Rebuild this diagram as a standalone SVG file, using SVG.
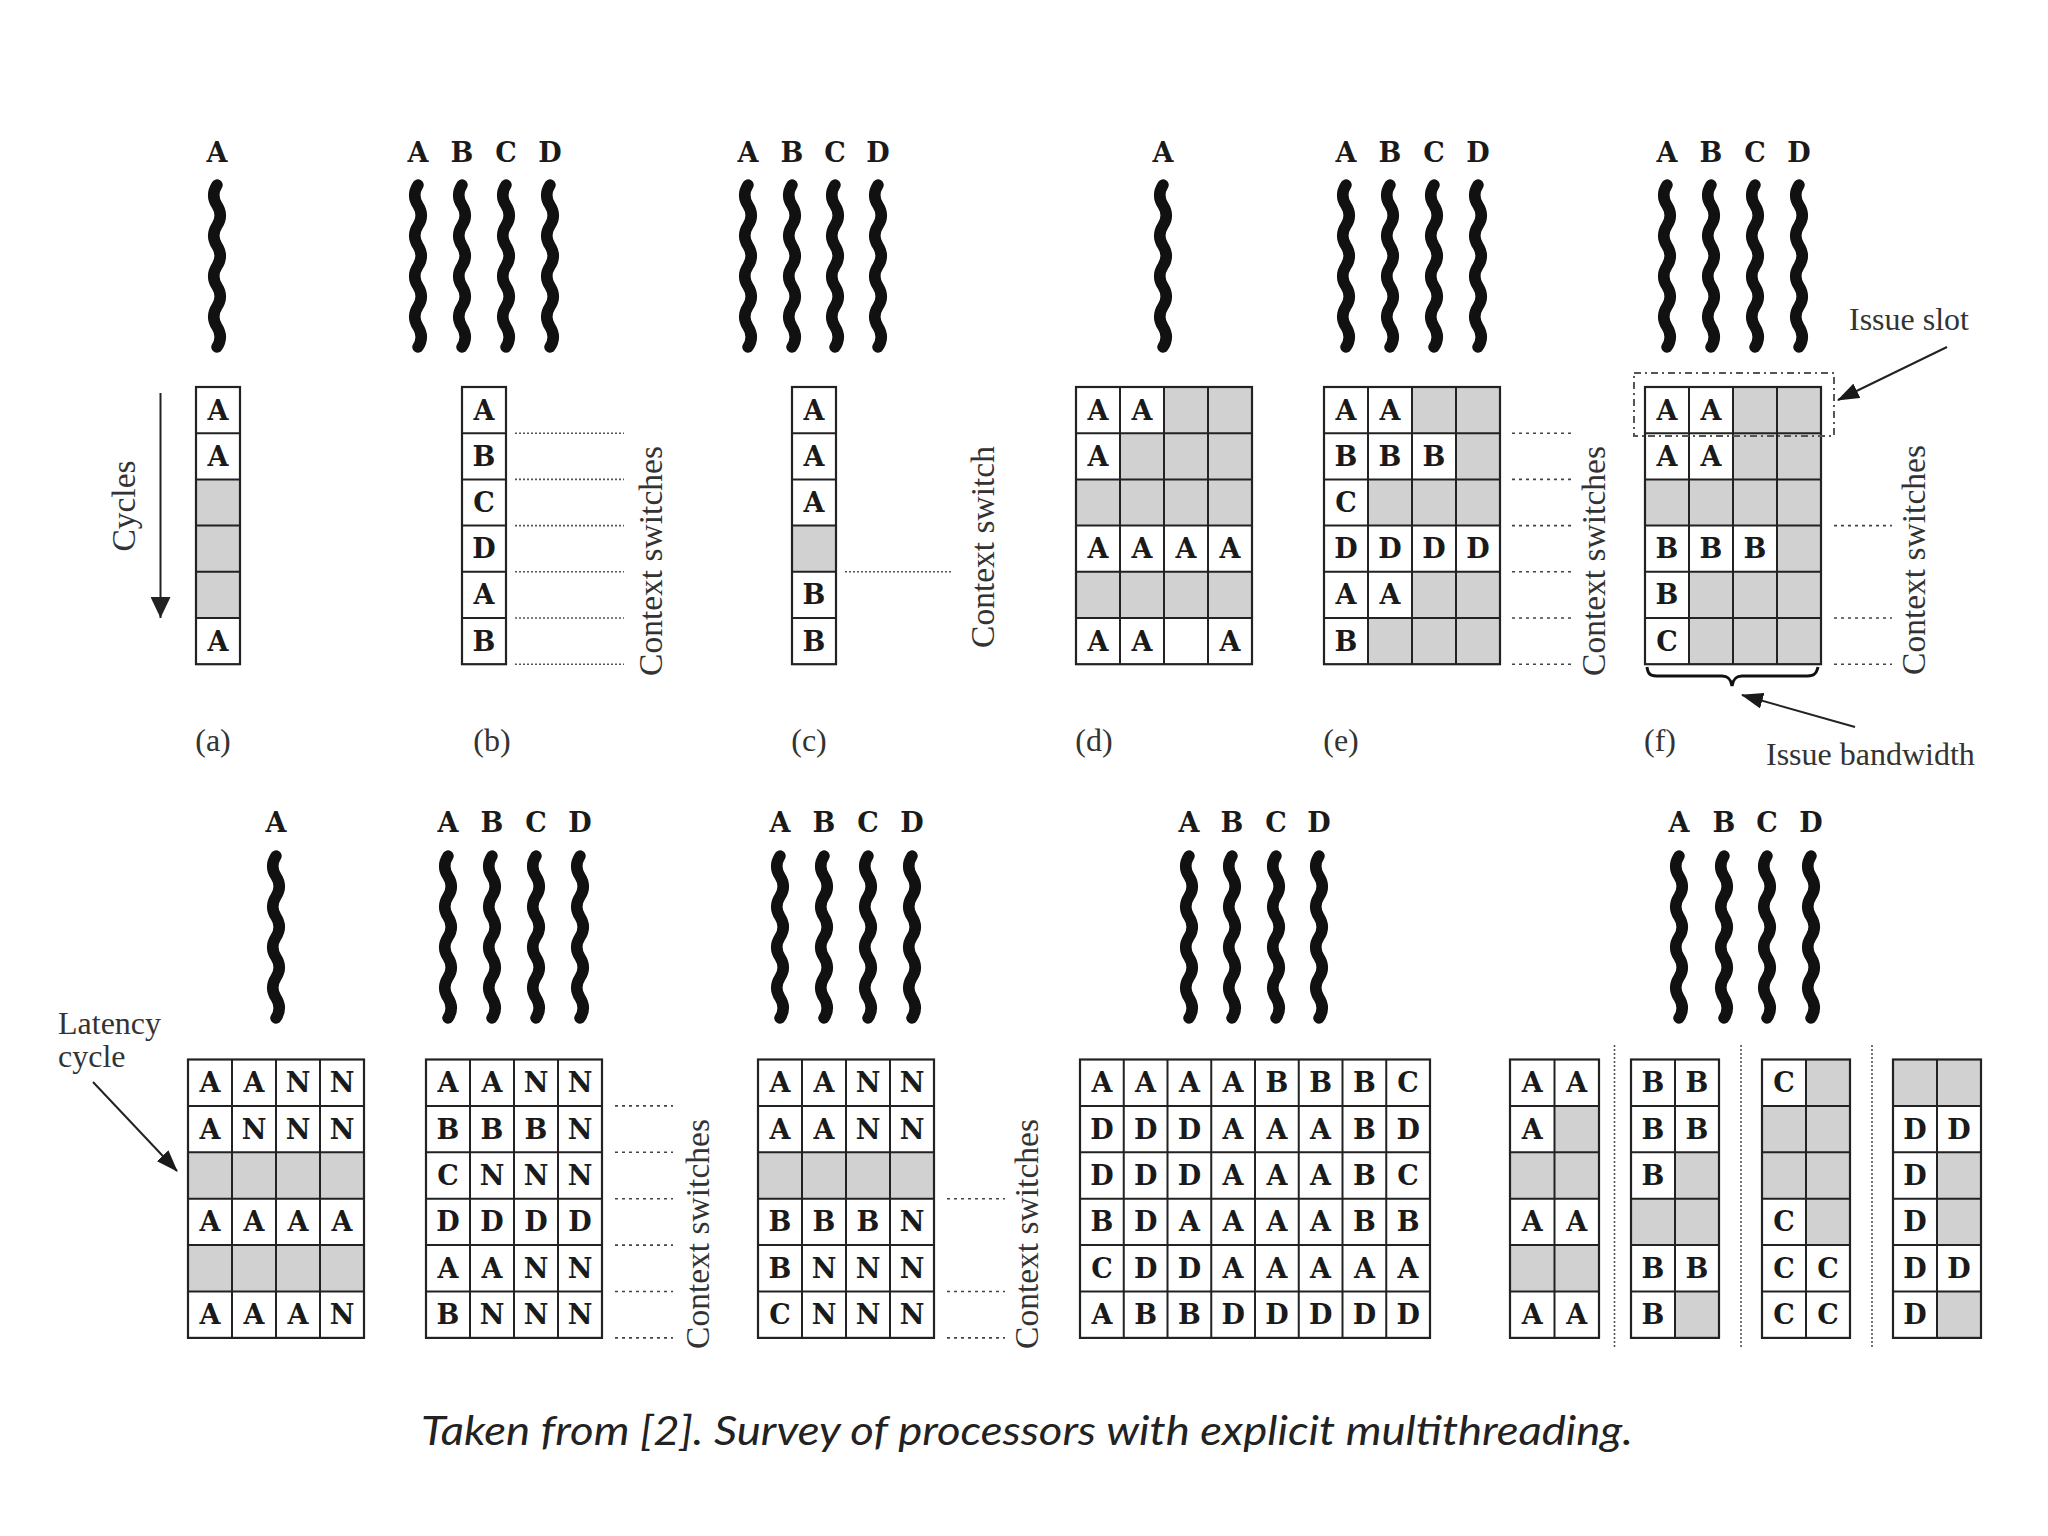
<svg xmlns="http://www.w3.org/2000/svg" width="2048" height="1536" viewBox="0 0 2048 1536">
<style>
.w{fill:#fff}
.g{fill:#d1d1d1}
.ln{stroke:#222;stroke-width:2;fill:none}
.bd{fill:none;stroke:#222;stroke-width:2.2}
.t{font-family:"DejaVu Serif","Liberation Serif",serif;font-weight:bold;font-size:27px;text-anchor:middle;fill:#1a1a1a}
.sr{font-family:"Liberation Serif",serif;font-size:32px;fill:#333}
.cs{font-family:"Liberation Serif",serif;font-size:33.5px;fill:#333;text-anchor:middle}
.lb{font-family:"Liberation Serif",serif;font-size:32px;fill:#333;text-anchor:middle}
.dt{stroke:#444;stroke-width:1.6;stroke-dasharray:3 4;fill:none}
.dt2{stroke:#555;stroke-width:1.6;stroke-dasharray:2 2;fill:none}
.wave{fill:none;stroke:#111;stroke-width:11.5;stroke-linecap:round}
.arr{stroke:#222;stroke-width:2;fill:none}
</style>
<defs>
<path id="wv" d="M0,0 q-6.5,10.125 0,20.25 t0,20.25 t0,20.25 t0,20.25 t0,20.25 t0,20.25 t0,20.25 t0,20.25"/>
<marker id="ah" viewBox="0 0 22 16" refX="21" refY="8" markerWidth="22" markerHeight="16" markerUnits="userSpaceOnUse" orient="auto"><path d="M0,0 L22,8 L0,16 z" fill="#1a1a1a"/></marker>
<marker id="ah2" viewBox="0 0 21 20" refX="21" refY="10" markerWidth="21" markerHeight="20" markerUnits="userSpaceOnUse" orient="auto"><path d="M0,0 L21,10 L0,20 z" fill="#222"/></marker>
</defs>
<rect width="2048" height="1536" fill="#fff"/>

<!-- (a) -->
<g id="panel-a">
<g class="t"><text x="217" y="162">A</text></g>
<use href="#wv" x="217" y="185" class="wave"/>
<rect class="w" x="196" y="387" width="44" height="277.2"/>
<rect class="g" x="196" y="479.4" width="44" height="138.6"/>
<path class="ln" d="M196,433.2H240M196,479.4H240M196,525.6H240M196,571.8H240M196,618H240"/>
<rect class="bd" x="196" y="387" width="44" height="277.2"/>
<g class="t"><text x="218" y="419.6">A</text><text x="218" y="465.8">A</text><text x="218" y="650.6">A</text></g>
<text class="cs" transform="translate(135,506) rotate(-90)">Cycles</text>
<text class="lb" x="213" y="751">(a)</text>
</g>

<!-- (b) -->
<g id="panel-b">
<g class="t"><text x="418" y="162">A</text><text x="462" y="162">B</text><text x="506" y="162">C</text><text x="550" y="162">D</text></g>
<use href="#wv" x="418" y="185" class="wave"/><use href="#wv" x="462" y="185" class="wave"/><use href="#wv" x="506" y="185" class="wave"/><use href="#wv" x="550" y="185" class="wave"/>
<rect class="w" x="462" y="387" width="44" height="277.2"/>
<path class="ln" d="M462,433.2H506M462,479.4H506M462,525.6H506M462,571.8H506M462,618H506"/>
<rect class="bd" x="462" y="387" width="44" height="277.2"/>
<g class="t"><text x="484" y="419.6">A</text><text x="484" y="465.8">B</text><text x="484" y="512">C</text><text x="484" y="558.2">D</text><text x="484" y="604.4">A</text><text x="484" y="650.6">B</text></g>
<path class="dt2" d="M515,433.2H624M515,479.4H624M515,525.6H624M515,571.8H624M515,618H624M515,664.2H624"/>
<text class="cs" transform="translate(662,561) rotate(-90)">Context switches</text>
<text class="lb" x="492" y="751">(b)</text>
</g>

<!-- (c) -->
<g id="panel-c">
<g class="t"><text x="748" y="162">A</text><text x="792" y="162">B</text><text x="835" y="162">C</text><text x="878" y="162">D</text></g>
<use href="#wv" x="748" y="185" class="wave"/><use href="#wv" x="792" y="185" class="wave"/><use href="#wv" x="835" y="185" class="wave"/><use href="#wv" x="878" y="185" class="wave"/>
<rect class="w" x="792" y="387" width="44" height="277.2"/>
<rect class="g" x="792" y="525.6" width="44" height="46.2"/>
<path class="ln" d="M792,433.2H836M792,479.4H836M792,525.6H836M792,571.8H836M792,618H836"/>
<rect class="bd" x="792" y="387" width="44" height="277.2"/>
<g class="t"><text x="814" y="419.6">A</text><text x="814" y="465.8">A</text><text x="814" y="512">A</text><text x="814" y="604.4">B</text><text x="814" y="650.6">B</text></g>
<path class="dt2" d="M845,571.8H953"/>
<text class="cs" transform="translate(994,547) rotate(-90)">Context switch</text>
<text class="lb" x="809" y="751">(c)</text>
</g>

<!-- (d) -->
<g id="panel-d">
<g class="t"><text x="1163" y="162">A</text></g>
<use href="#wv" x="1163" y="185" class="wave"/>
<rect class="w" x="1076" y="387" width="176" height="277.2"/>
<rect class="g" x="1164" y="387" width="88" height="46.2"/>
<rect class="g" x="1120" y="433.2" width="132" height="46.2"/>
<rect class="g" x="1076" y="479.4" width="176" height="46.2"/>
<rect class="g" x="1076" y="571.8" width="176" height="46.2"/>
<path class="ln" d="M1076,433.2H1252M1076,479.4H1252M1076,525.6H1252M1076,571.8H1252M1076,618H1252M1120,387V664.2M1164,387V664.2M1208,387V664.2"/>
<rect class="bd" x="1076" y="387" width="176" height="277.2"/>
<g class="t"><text x="1098" y="419.6">A</text><text x="1142" y="419.6">A</text><text x="1098" y="465.8">A</text><text x="1098" y="558.2">A</text><text x="1142" y="558.2">A</text><text x="1186" y="558.2">A</text><text x="1230" y="558.2">A</text><text x="1098" y="650.6">A</text><text x="1142" y="650.6">A</text><text x="1230" y="650.6">A</text></g>
<text class="lb" x="1094" y="751">(d)</text>
</g>

<!-- (e) -->
<g id="panel-e">
<g class="t"><text x="1346" y="162">A</text><text x="1390" y="162">B</text><text x="1434" y="162">C</text><text x="1478" y="162">D</text></g>
<use href="#wv" x="1346" y="185" class="wave"/><use href="#wv" x="1390" y="185" class="wave"/><use href="#wv" x="1434" y="185" class="wave"/><use href="#wv" x="1478" y="185" class="wave"/>
<rect class="w" x="1324" y="387" width="176" height="277.2"/>
<rect class="g" x="1412" y="387" width="88" height="46.2"/>
<rect class="g" x="1456" y="433.2" width="44" height="46.2"/>
<rect class="g" x="1368" y="479.4" width="132" height="46.2"/>
<rect class="g" x="1412" y="571.8" width="88" height="46.2"/>
<rect class="g" x="1368" y="618" width="132" height="46.2"/>
<path class="ln" d="M1324,433.2H1500M1324,479.4H1500M1324,525.6H1500M1324,571.8H1500M1324,618H1500M1368,387V664.2M1412,387V664.2M1456,387V664.2"/>
<rect class="bd" x="1324" y="387" width="176" height="277.2"/>
<g class="t"><text x="1346" y="419.6">A</text><text x="1390" y="419.6">A</text><text x="1346" y="465.8">B</text><text x="1390" y="465.8">B</text><text x="1434" y="465.8">B</text><text x="1346" y="512">C</text><text x="1346" y="558.2">D</text><text x="1390" y="558.2">D</text><text x="1434" y="558.2">D</text><text x="1478" y="558.2">D</text><text x="1346" y="604.4">A</text><text x="1390" y="604.4">A</text><text x="1346" y="650.6">B</text></g>
<path class="dt" d="M1512,433.2H1572M1512,479.4H1572M1512,525.6H1572M1512,571.8H1572M1512,618H1572M1512,664.2H1572"/>
<text class="cs" transform="translate(1605,561) rotate(-90)">Context switches</text>
<text class="lb" x="1341" y="751">(e)</text>
</g>

<!-- (f) -->
<g id="panel-f">
<g class="t"><text x="1667" y="162">A</text><text x="1711" y="162">B</text><text x="1755" y="162">C</text><text x="1799" y="162">D</text></g>
<use href="#wv" x="1667" y="185" class="wave"/><use href="#wv" x="1711" y="185" class="wave"/><use href="#wv" x="1755" y="185" class="wave"/><use href="#wv" x="1799" y="185" class="wave"/>
<rect class="w" x="1645" y="387" width="176" height="277.2"/>
<rect class="g" x="1733" y="387" width="88" height="46.2"/>
<rect class="g" x="1733" y="433.2" width="88" height="46.2"/>
<rect class="g" x="1645" y="479.4" width="176" height="46.2"/>
<rect class="g" x="1777" y="525.6" width="44" height="46.2"/>
<rect class="g" x="1689" y="571.8" width="132" height="46.2"/>
<rect class="g" x="1689" y="618" width="132" height="46.2"/>
<path class="ln" d="M1645,433.2H1821M1645,479.4H1821M1645,525.6H1821M1645,571.8H1821M1645,618H1821M1689,387V664.2M1733,387V664.2M1777,387V664.2"/>
<rect class="bd" x="1645" y="387" width="176" height="277.2"/>
<g class="t"><text x="1667" y="419.6">A</text><text x="1711" y="419.6">A</text><text x="1667" y="465.8">A</text><text x="1711" y="465.8">A</text><text x="1667" y="558.2">B</text><text x="1711" y="558.2">B</text><text x="1755" y="558.2">B</text><text x="1667" y="604.4">B</text><text x="1667" y="650.6">C</text></g>
<rect x="1634" y="373" width="200" height="63" fill="none" stroke="#555" stroke-width="2" stroke-dasharray="7 4 2 4"/>
<path d="M1647,667 C1648,676 1652,676 1660,676 L1722,676 C1729,676 1731,680 1732,686 C1733,680 1735,676 1742,676 L1804,676 C1812,676 1816,676 1818,667" fill="none" stroke="#111" stroke-width="3"/>
<path class="dt" d="M1834,525.6H1892M1834,618H1892M1834,664.2H1892"/>
<text class="cs" transform="translate(1925,560) rotate(-90)">Context switches</text>
<text class="sr" x="1849" y="330">Issue slot</text>
<text class="sr" x="1766" y="765">Issue bandwidth</text>
<text class="lb" x="1660" y="751">(f)</text>
</g>

<!-- bottom g -->
<g id="panel-g">
<g class="t"><text x="276" y="832">A</text></g>
<use href="#wv" x="276" y="856" class="wave"/>
<rect class="w" x="188" y="1059.5" width="176" height="278.4"/>
<rect class="g" x="188" y="1152.3" width="176" height="46.4"/>
<rect class="g" x="188" y="1245.1" width="176" height="46.4"/>
<path class="ln" d="M188,1105.9H364M188,1152.3H364M188,1198.7H364M188,1245.1H364M188,1291.5H364M232,1059.5V1337.9M276,1059.5V1337.9M320,1059.5V1337.9"/>
<rect class="bd" x="188" y="1059.5" width="176" height="278.4"/>
<g class="t"><text x="210" y="1092.2">A</text><text x="254" y="1092.2">A</text><text x="298" y="1092.2">N</text><text x="342" y="1092.2">N</text><text x="210" y="1138.6">A</text><text x="254" y="1138.6">N</text><text x="298" y="1138.6">N</text><text x="342" y="1138.6">N</text><text x="210" y="1231.4">A</text><text x="254" y="1231.4">A</text><text x="298" y="1231.4">A</text><text x="342" y="1231.4">A</text><text x="210" y="1324.2">A</text><text x="254" y="1324.2">A</text><text x="298" y="1324.2">A</text><text x="342" y="1324.2">N</text></g>
<text class="sr" x="58" y="1034">Latency</text>
<text class="sr" x="58" y="1067">cycle</text>
</g>

<!-- bottom h -->
<g id="panel-h">
<g class="t"><text x="448" y="832">A</text><text x="492" y="832">B</text><text x="536" y="832">C</text><text x="580" y="832">D</text></g>
<use href="#wv" x="448" y="856" class="wave"/><use href="#wv" x="492" y="856" class="wave"/><use href="#wv" x="536" y="856" class="wave"/><use href="#wv" x="580" y="856" class="wave"/>
<rect class="w" x="426" y="1059.5" width="176" height="278.4"/>
<path class="ln" d="M426,1105.9H602M426,1152.3H602M426,1198.7H602M426,1245.1H602M426,1291.5H602M470,1059.5V1337.9M514,1059.5V1337.9M558,1059.5V1337.9"/>
<rect class="bd" x="426" y="1059.5" width="176" height="278.4"/>
<g class="t"><text x="448" y="1092.2">A</text><text x="492" y="1092.2">A</text><text x="536" y="1092.2">N</text><text x="580" y="1092.2">N</text><text x="448" y="1138.6">B</text><text x="492" y="1138.6">B</text><text x="536" y="1138.6">B</text><text x="580" y="1138.6">N</text><text x="448" y="1185">C</text><text x="492" y="1185">N</text><text x="536" y="1185">N</text><text x="580" y="1185">N</text><text x="448" y="1231.4">D</text><text x="492" y="1231.4">D</text><text x="536" y="1231.4">D</text><text x="580" y="1231.4">D</text><text x="448" y="1277.8">A</text><text x="492" y="1277.8">A</text><text x="536" y="1277.8">N</text><text x="580" y="1277.8">N</text><text x="448" y="1324.2">B</text><text x="492" y="1324.2">N</text><text x="536" y="1324.2">N</text><text x="580" y="1324.2">N</text></g>
<path class="dt" d="M615,1105.9H673M615,1152.3H673M615,1198.7H673M615,1245.1H673M615,1291.5H673M615,1337.9H673"/>
<text class="cs" transform="translate(709,1234) rotate(-90)">Context switches</text>
</g>

<!-- bottom i -->
<g id="panel-i">
<g class="t"><text x="780" y="832">A</text><text x="824" y="832">B</text><text x="868" y="832">C</text><text x="912" y="832">D</text></g>
<use href="#wv" x="780" y="856" class="wave"/><use href="#wv" x="824" y="856" class="wave"/><use href="#wv" x="868" y="856" class="wave"/><use href="#wv" x="912" y="856" class="wave"/>
<rect class="w" x="758" y="1059.5" width="176" height="278.4"/>
<rect class="g" x="758" y="1152.3" width="176" height="46.4"/>
<path class="ln" d="M758,1105.9H934M758,1152.3H934M758,1198.7H934M758,1245.1H934M758,1291.5H934M802,1059.5V1337.9M846,1059.5V1337.9M890,1059.5V1337.9"/>
<rect class="bd" x="758" y="1059.5" width="176" height="278.4"/>
<g class="t"><text x="780" y="1092.2">A</text><text x="824" y="1092.2">A</text><text x="868" y="1092.2">N</text><text x="912" y="1092.2">N</text><text x="780" y="1138.6">A</text><text x="824" y="1138.6">A</text><text x="868" y="1138.6">N</text><text x="912" y="1138.6">N</text><text x="780" y="1231.4">B</text><text x="824" y="1231.4">B</text><text x="868" y="1231.4">B</text><text x="912" y="1231.4">N</text><text x="780" y="1277.8">B</text><text x="824" y="1277.8">N</text><text x="868" y="1277.8">N</text><text x="912" y="1277.8">N</text><text x="780" y="1324.2">C</text><text x="824" y="1324.2">N</text><text x="868" y="1324.2">N</text><text x="912" y="1324.2">N</text></g>
<path class="dt" d="M947,1198.7H1005M947,1291.5H1005M947,1337.9H1005"/>
<text class="cs" transform="translate(1038,1234) rotate(-90)">Context switches</text>
</g>

<!-- bottom j -->
<g id="panel-j">
<g class="t"><text x="1189" y="832">A</text><text x="1232" y="832">B</text><text x="1276" y="832">C</text><text x="1319" y="832">D</text></g>
<use href="#wv" x="1189" y="856" class="wave"/><use href="#wv" x="1232" y="856" class="wave"/><use href="#wv" x="1276" y="856" class="wave"/><use href="#wv" x="1319" y="856" class="wave"/>
<rect class="w" x="1080" y="1059.5" width="350" height="278.4"/>
<path class="ln" d="M1080,1105.9H1430M1080,1152.3H1430M1080,1198.7H1430M1080,1245.1H1430M1080,1291.5H1430M1123.75,1059.5V1337.9M1167.5,1059.5V1337.9M1211.25,1059.5V1337.9M1255,1059.5V1337.9M1298.75,1059.5V1337.9M1342.5,1059.5V1337.9M1386.25,1059.5V1337.9"/>
<rect class="bd" x="1080" y="1059.5" width="350" height="278.4"/>
<g class="t">
<text x="1101.9" y="1092.2">A</text><text x="1145.6" y="1092.2">A</text><text x="1189.4" y="1092.2">A</text><text x="1233.1" y="1092.2">A</text><text x="1276.9" y="1092.2">B</text><text x="1320.6" y="1092.2">B</text><text x="1364.4" y="1092.2">B</text><text x="1408.1" y="1092.2">C</text>
<text x="1101.9" y="1138.6">D</text><text x="1145.6" y="1138.6">D</text><text x="1189.4" y="1138.6">D</text><text x="1233.1" y="1138.6">A</text><text x="1276.9" y="1138.6">A</text><text x="1320.6" y="1138.6">A</text><text x="1364.4" y="1138.6">B</text><text x="1408.1" y="1138.6">D</text>
<text x="1101.9" y="1185">D</text><text x="1145.6" y="1185">D</text><text x="1189.4" y="1185">D</text><text x="1233.1" y="1185">A</text><text x="1276.9" y="1185">A</text><text x="1320.6" y="1185">A</text><text x="1364.4" y="1185">B</text><text x="1408.1" y="1185">C</text>
<text x="1101.9" y="1231.4">B</text><text x="1145.6" y="1231.4">D</text><text x="1189.4" y="1231.4">A</text><text x="1233.1" y="1231.4">A</text><text x="1276.9" y="1231.4">A</text><text x="1320.6" y="1231.4">A</text><text x="1364.4" y="1231.4">B</text><text x="1408.1" y="1231.4">B</text>
<text x="1101.9" y="1277.8">C</text><text x="1145.6" y="1277.8">D</text><text x="1189.4" y="1277.8">D</text><text x="1233.1" y="1277.8">A</text><text x="1276.9" y="1277.8">A</text><text x="1320.6" y="1277.8">A</text><text x="1364.4" y="1277.8">A</text><text x="1408.1" y="1277.8">A</text>
<text x="1101.9" y="1324.2">A</text><text x="1145.6" y="1324.2">B</text><text x="1189.4" y="1324.2">B</text><text x="1233.1" y="1324.2">D</text><text x="1276.9" y="1324.2">D</text><text x="1320.6" y="1324.2">D</text><text x="1364.4" y="1324.2">D</text><text x="1408.1" y="1324.2">D</text>
</g>
</g>

<!-- bottom k -->
<g id="panel-k">
<g class="t"><text x="1679" y="832">A</text><text x="1724" y="832">B</text><text x="1767" y="832">C</text><text x="1811" y="832">D</text></g>
<use href="#wv" x="1679" y="856" class="wave"/><use href="#wv" x="1724" y="856" class="wave"/><use href="#wv" x="1767" y="856" class="wave"/><use href="#wv" x="1811" y="856" class="wave"/>
<rect class="w" x="1510" y="1059.5" width="89" height="278.4"/>
<rect class="g" x="1554.5" y="1105.9" width="44.5" height="46.4"/>
<rect class="g" x="1510" y="1152.3" width="89" height="46.4"/>
<rect class="g" x="1510" y="1245.1" width="89" height="46.4"/>
<path class="ln" d="M1510,1105.9H1599M1510,1152.3H1599M1510,1198.7H1599M1510,1245.1H1599M1510,1291.5H1599M1554.5,1059.5V1337.9"/>
<rect class="bd" x="1510" y="1059.5" width="89" height="278.4"/>
<rect class="w" x="1631" y="1059.5" width="88" height="278.4"/>
<rect class="g" x="1675" y="1152.3" width="44" height="46.4"/>
<rect class="g" x="1631" y="1198.7" width="88" height="46.4"/>
<rect class="g" x="1675" y="1291.5" width="44" height="46.4"/>
<path class="ln" d="M1631,1105.9H1719M1631,1152.3H1719M1631,1198.7H1719M1631,1245.1H1719M1631,1291.5H1719M1675,1059.5V1337.9"/>
<rect class="bd" x="1631" y="1059.5" width="88" height="278.4"/>
<rect class="w" x="1762" y="1059.5" width="88" height="278.4"/>
<rect class="g" x="1806" y="1059.5" width="44" height="46.4"/>
<rect class="g" x="1762" y="1105.9" width="88" height="92.8"/>
<rect class="g" x="1806" y="1198.7" width="44" height="46.4"/>
<path class="ln" d="M1762,1105.9H1850M1762,1152.3H1850M1762,1198.7H1850M1762,1245.1H1850M1762,1291.5H1850M1806,1059.5V1337.9"/>
<rect class="bd" x="1762" y="1059.5" width="88" height="278.4"/>
<rect class="w" x="1893" y="1059.5" width="88" height="278.4"/>
<rect class="g" x="1893" y="1059.5" width="88" height="46.4"/>
<rect class="g" x="1937" y="1152.3" width="44" height="92.8"/>
<rect class="g" x="1937" y="1291.5" width="44" height="46.4"/>
<path class="ln" d="M1893,1105.9H1981M1893,1152.3H1981M1893,1198.7H1981M1893,1245.1H1981M1893,1291.5H1981M1937,1059.5V1337.9"/>
<rect class="bd" x="1893" y="1059.5" width="88" height="278.4"/>
<path class="dt2" d="M1614.5,1045V1348M1741,1045V1348M1872,1045V1348"/>
<g class="t">
<text x="1532.25" y="1092.2">A</text><text x="1576.75" y="1092.2">A</text><text x="1532.25" y="1138.6">A</text><text x="1532.25" y="1231.4">A</text><text x="1576.75" y="1231.4">A</text><text x="1532.25" y="1324.2">A</text><text x="1576.75" y="1324.2">A</text>
<text x="1653" y="1092.2">B</text><text x="1697" y="1092.2">B</text><text x="1653" y="1138.6">B</text><text x="1697" y="1138.6">B</text><text x="1653" y="1185">B</text><text x="1653" y="1277.8">B</text><text x="1697" y="1277.8">B</text><text x="1653" y="1324.2">B</text>
<text x="1784" y="1092.2">C</text><text x="1784" y="1231.4">C</text><text x="1784" y="1277.8">C</text><text x="1828" y="1277.8">C</text><text x="1784" y="1324.2">C</text><text x="1828" y="1324.2">C</text>
<text x="1915" y="1138.6">D</text><text x="1959" y="1138.6">D</text><text x="1915" y="1185">D</text><text x="1915" y="1231.4">D</text><text x="1915" y="1277.8">D</text><text x="1959" y="1277.8">D</text><text x="1915" y="1324.2">D</text>
</g>
</g>

<!-- connectors -->
<g id="connectors">
<line class="arr" x1="160.5" y1="393" x2="160.5" y2="618" marker-end="url(#ah2)"/>
<line class="arr" x1="1947" y1="347" x2="1838" y2="400" marker-end="url(#ah)"/>
<line class="arr" x1="1855" y1="727" x2="1742" y2="695" marker-end="url(#ah)"/>
<line class="arr" x1="93" y1="1082" x2="177" y2="1171" marker-end="url(#ah)"/>
</g>

<text x="421" y="1445" font-family="Lato, 'Open Sans', sans-serif" font-style="italic" font-size="40" fill="#222" textLength="1212" lengthAdjust="spacingAndGlyphs">Taken from [2]. Survey of processors with explicit multithreading.</text>
</svg>
